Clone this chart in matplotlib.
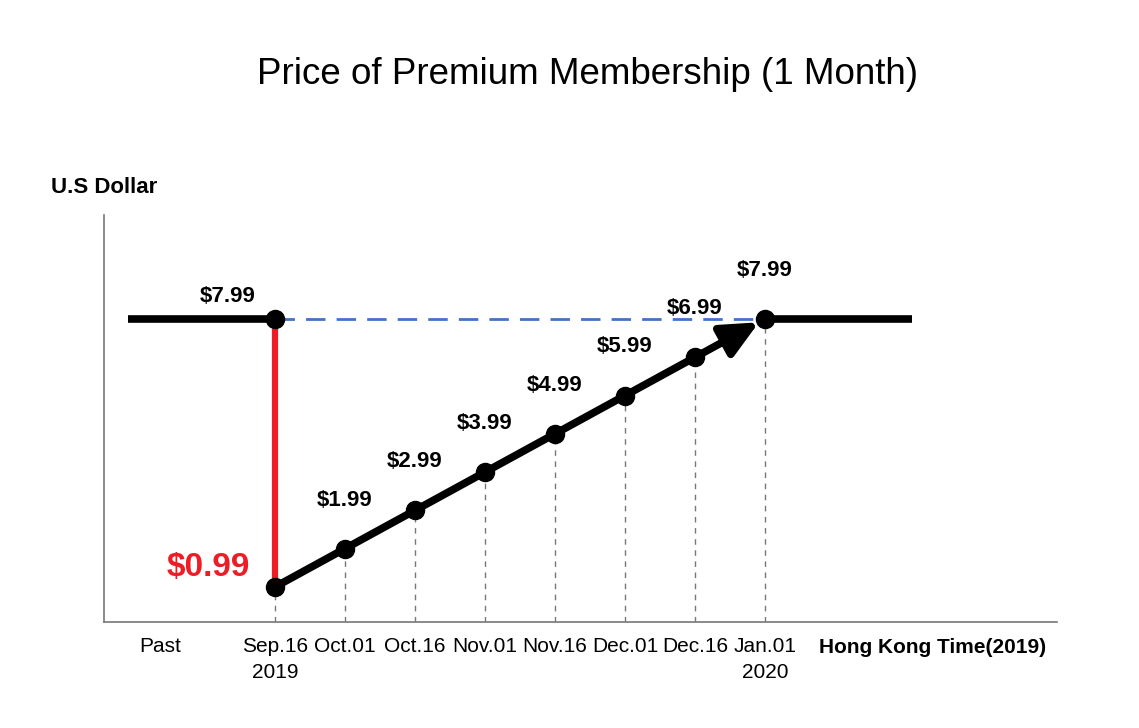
import matplotlib.pyplot as plt

# Price steps of the premium membership (USD), one point every half month
dates = ['Sep.16\n2019', 'Oct.01', 'Oct.16', 'Nov.01', 'Nov.16',
         'Dec.01', 'Dec.16', 'Jan.01\n2020']
prices = [0.99, 1.99, 2.99, 3.99, 4.99, 5.99, 6.99, 7.99]
past_label = 'Past'
past_price = 7.99

plt.rcParams['font.family'] = ['Liberation Sans', 'DejaVu Sans']

RED = '#ee1c25'
BLUE = '#4472c4'


def main():
    fig = plt.figure(figsize=(11.39, 7.28), dpi=100)
    ax = fig.add_axes([0.0913, 0.1456, 0.8367, 0.5591])

    xs = list(range(len(prices)))
    past_x = -1.64

    # flat price before the promotion and after it ends
    ax.plot([-2.1, xs[0]], [past_price, past_price], color='black', lw=5.5,
            solid_capstyle='butt', zorder=3)
    ax.plot([xs[-1], 9.1], [prices[-1], prices[-1]], color='black', lw=5.5,
            solid_capstyle='butt', zorder=3)

    # the drop to $0.99
    ax.plot([xs[0], xs[0]], [past_price, prices[0]], color=RED, lw=4.5,
            solid_capstyle='butt', zorder=2)

    # reference: old price carried across
    ax.plot([xs[0], xs[-1]], [past_price, past_price], color=BLUE, lw=2,
            dashes=(7, 4), zorder=1)

    # monthly climb back up, last step drawn as an arrow
    ax.plot(xs[:-1], prices[:-1], color='black', lw=5.5, zorder=3)
    ax.annotate('', xy=(xs[-1], prices[-1]), xytext=(xs[-2], prices[-2]),
                arrowprops=dict(arrowstyle='-|>,head_length=1.6,head_width=0.75',
                                color='black', lw=5.5, shrinkA=0, shrinkB=5,
                                mutation_scale=14),
                zorder=4)

    ax.plot([xs[0]] + xs, [past_price] + prices, 'o', color='black',
            markersize=13, zorder=5)

    # thin guides down to the time axis
    for x, p in zip(xs, prices):
        ax.plot([x, x], [0.076, p], color='#777777', lw=1, dashes=(4, 4),
                zorder=0)

    # price labels
    ax.annotate('$%.2f' % past_price, (xs[0], past_price), xytext=(-34, 16),
                textcoords='offset points', ha='center', va='center',
                fontsize=16, fontweight='bold')
    for x, p in zip(xs[1:], prices[1:]):
        ax.annotate('$%.2f' % p, (x, p), xytext=(0, 35),
                    textcoords='offset points', ha='center', va='center',
                    fontsize=16, fontweight='bold')
    ax.annotate('$%.2f' % prices[0], (xs[0], prices[0]), xytext=(-48, 14),
                textcoords='offset points', ha='center', va='center',
                fontsize=24, fontweight='bold', color=RED)

    ax.set_xlim(-2.44, 11.17)
    ax.set_ylim(0.076, 10.706)

    ax.set_xticks([past_x] + xs)
    ax.set_xticklabels([past_label] + dates, fontsize=15, linespacing=1.45,
                       va='top')
    ax.tick_params(axis='x', length=0, pad=11)
    ax.set_yticks([])

    for side in ['top', 'right']:
        ax.spines[side].set_visible(False)
    for side in ['left', 'bottom']:
        ax.spines[side].set_color('#777777')
        ax.spines[side].set_linewidth(1.2)

    ax.annotate('U.S Dollar', (0, 1), xycoords='axes fraction',
                xytext=(0, 20), textcoords='offset points',
                ha='center', va='center', fontsize=16, fontweight='bold')
    ax.annotate('Hong Kong Time(2019)', (9.4, 0),
                xycoords=('data', 'axes fraction'),
                xytext=(0, -18), textcoords='offset points',
                ha='center', va='center', fontsize=15, fontweight='bold')

    fig.text(0.516, 0.897, 'Price of Premium Membership (1 Month)',
             ha='center', va='center', fontsize=26.5)

    fig.savefig('out.png', dpi=100)


if __name__ == '__main__':
    main()
